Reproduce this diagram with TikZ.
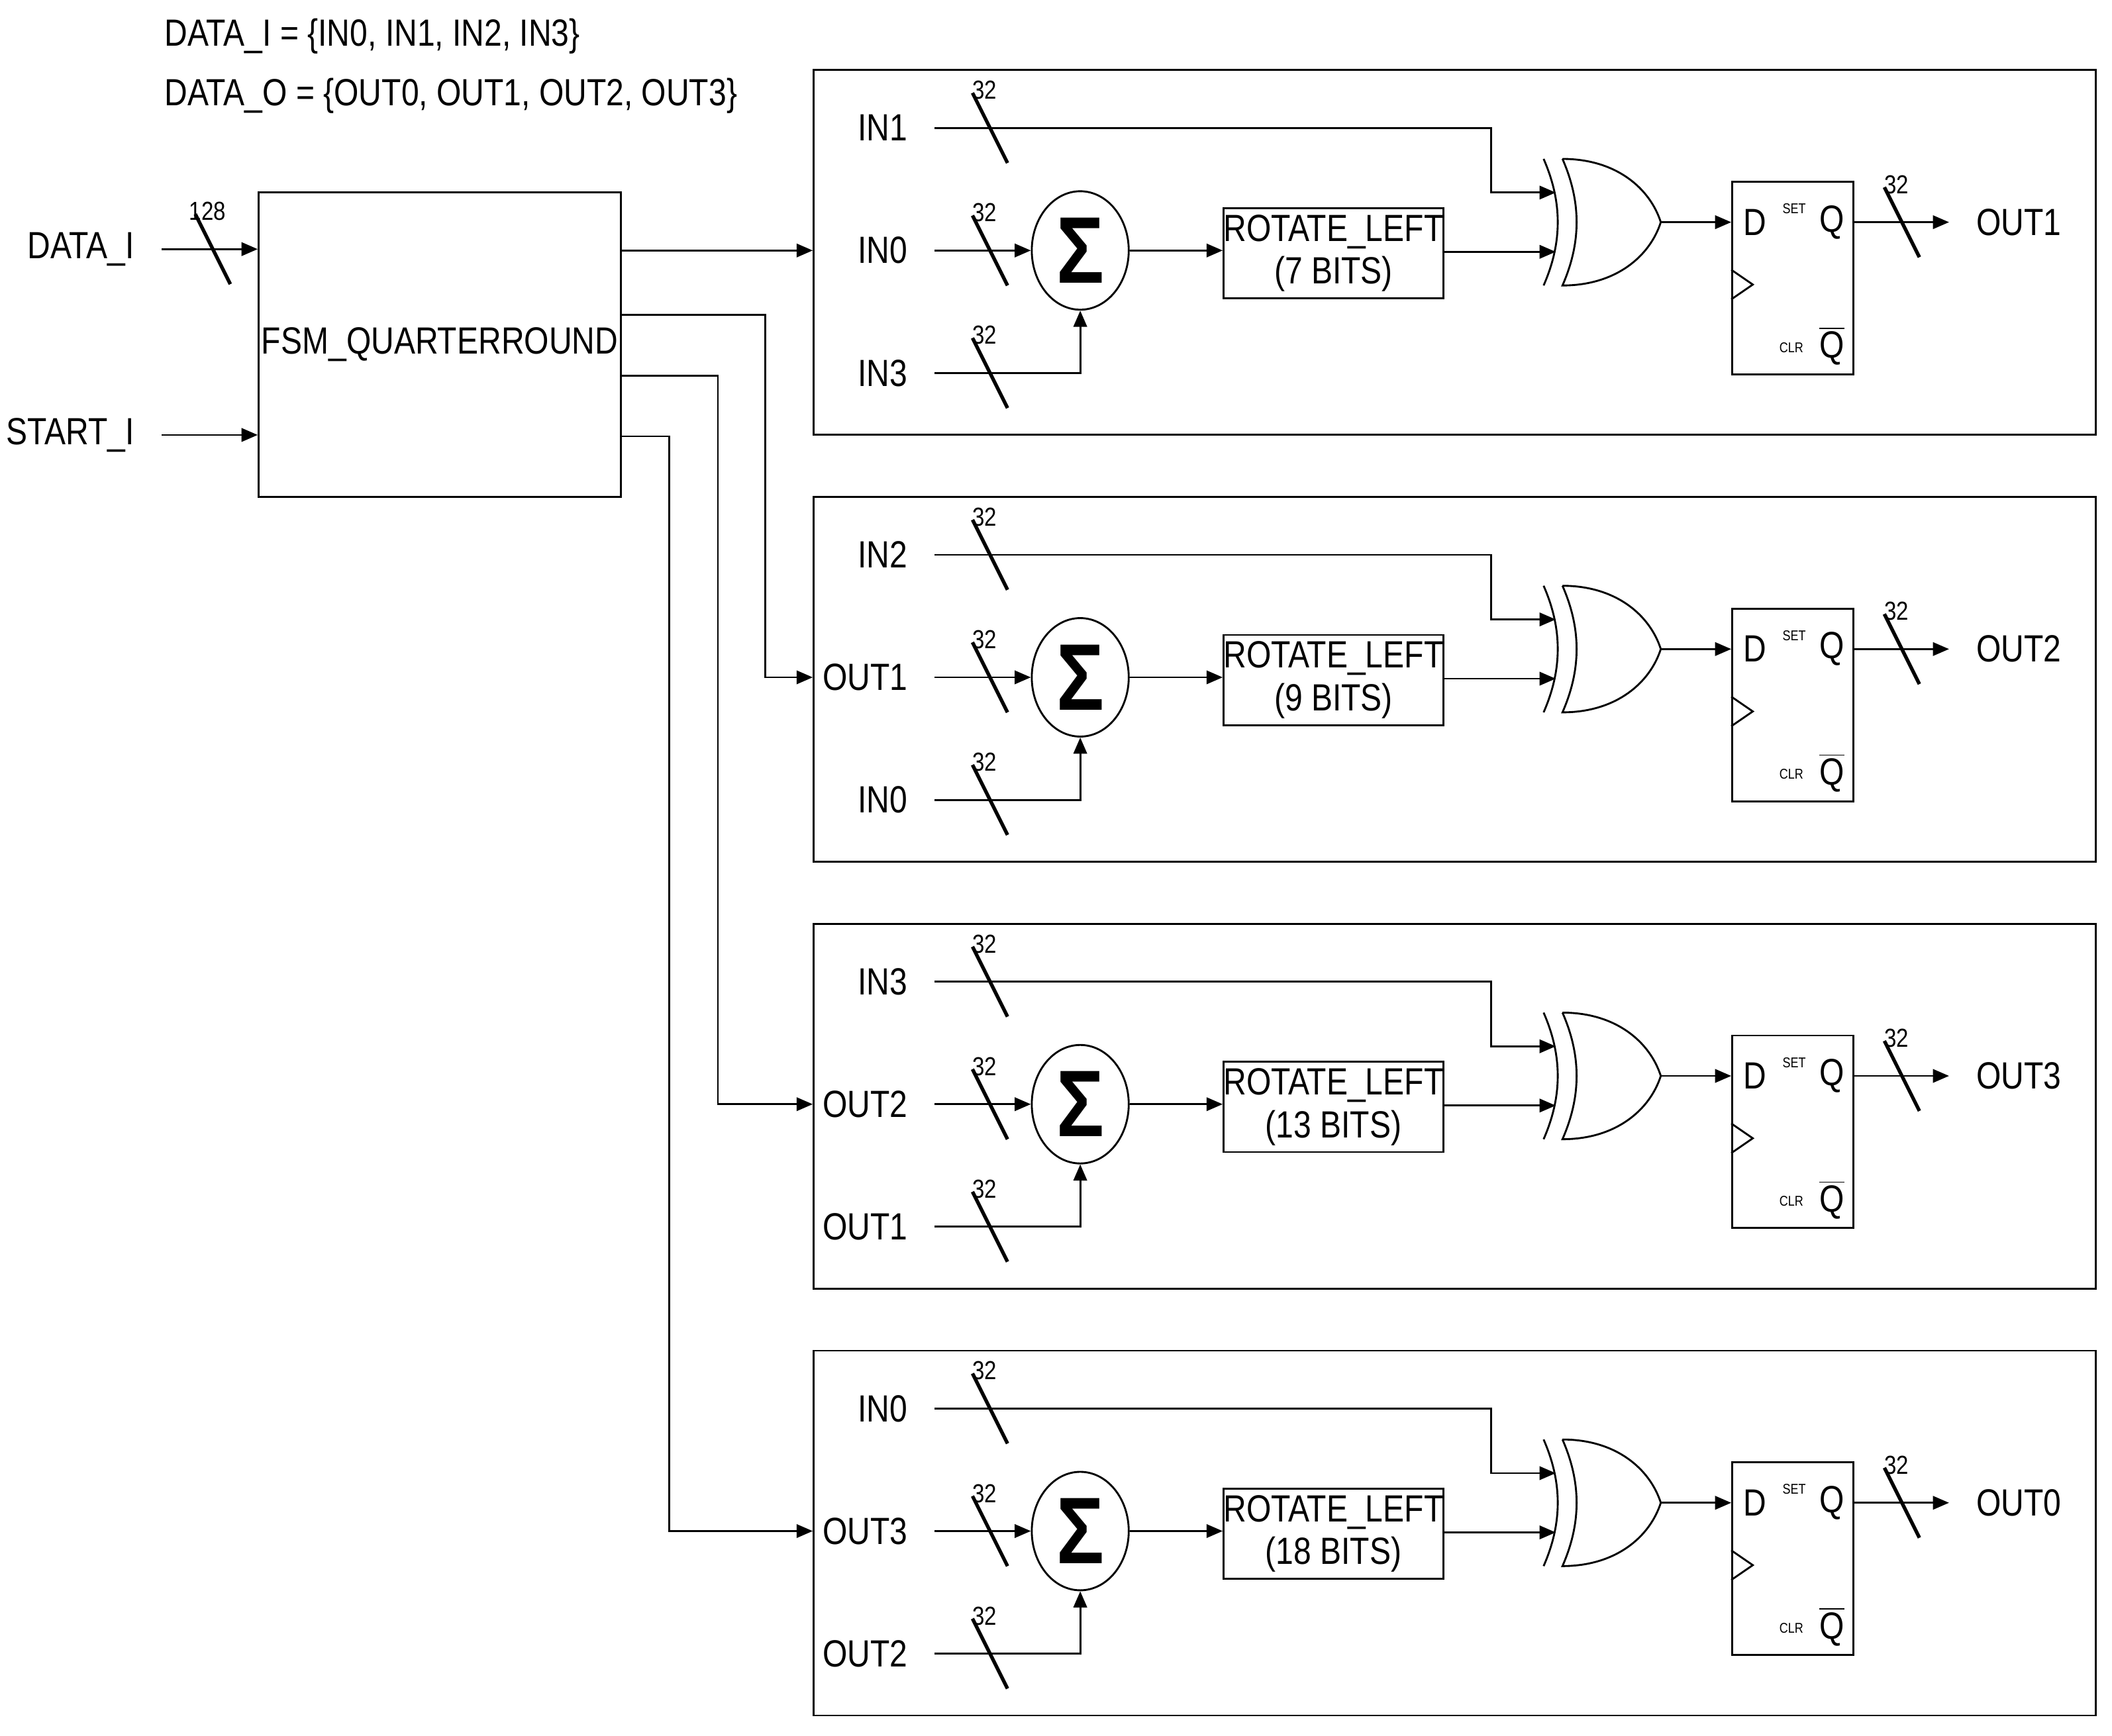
\documentclass[tikz,border=0pt]{standalone}
\usepackage{fontspec}
\setmainfont{Liberation Sans}[FakeStretch=0.84]
\usetikzlibrary{shapes.geometric, arrows.meta, positioning, calc}
\tikzset{
    wire/.style={line width=0.8pt},
    bus/.style={wire, -{Triangle[length=2.4mm,width=2mm]}},
    slash/.style={line width=1.5pt},
    lbl/.style={font=\fontsize{16}{18}\selectfont, inner ysep=1pt, inner xsep=0.4cm},
    tiny/.style={font=\fontsize{11}{12}\selectfont, inner sep=0pt},
    ffpin/.style={font=\fontsize{6}{7}\selectfont, inner sep=0pt},
    box/.style={draw, wire, rectangle, inner sep=0pt, align=center, font=\fontsize{16}{18}\selectfont},
}
\newcommand\busslash[2]{%
    \draw[slash] ($(#1)+(-13,-26)$) -- ($(#1)+(13,26)$);
    \node[tiny] at ($(#1)+(-4,-28)$) {#2};}
\begin{document}
\begin{tikzpicture}[x=0.02cm, y=-0.02cm]
    \useasboundingbox (0,0) rectangle (1568,1289);
    % header
    \node[lbl, inner xsep=0pt, anchor=west] (hdi) at (122,27) {DATA\_I = \{IN0, IN1, IN2, IN3\}};
    \node[lbl, inner xsep=0pt, anchor=west] (hdo) at (122,71) {DATA\_O = \{OUT0, OUT1, OUT2, OUT3\}};

    % control block
    \node[box, minimum width=5.38cm, minimum height=4.52cm] (fsm) at (326.5,256) {FSM\_QUARTERROUND};
    \node[lbl, anchor=east] (datai) at (120,185) {DATA\_I};
    \node[lbl, anchor=east] (starti) at (120,323) {START\_I};
    \draw[bus] (datai.east) -- (fsm.west |- datai.east);
    \busslash{158,185}{128}
    \draw[bus] (starti.east) -- (fsm.west |- starti.east);

    \foreach \i/\t/\la/\lb/\lc/\b/\o in {1/0/IN1/IN0/IN3/7/OUT1, 2/317/IN2/OUT1/IN0/9/OUT2,
        3/634/IN3/OUT2/OUT1/13/OUT3, 4/951/IN0/OUT3/OUT2/18/OUT0} {
    \begin{scope}[yshift={-\t*0.02cm}]
        \node[box, minimum width=19.04cm, minimum height=5.42cm] (blk\i) at (1080,187.5) {};
        \node[lbl, anchor=east] (ta\i) at (694,95) {\la};
        \node[lbl, anchor=east] (mi\i) at (694,186) {\lb};
        \node[lbl, anchor=east] (bo\i) at (694,277) {\lc};
        \node[draw, wire, ellipse, minimum width=1.44cm, minimum height=1.76cm, inner sep=0pt] (sum\i) at (802,186)
            {\fontsize{40}{40}\selectfont\bfseries Σ};
        \node[box, minimum width=3.24cm, minimum height=1.34cm] (rot\i) at (990,188) {ROTATE\_LEFT\\(\b{} BITS)};
        % xor gate
        \draw[wire] (1146,118) .. controls (1160,150) and (1160,180) .. (1146,212);
        \draw[wire] (1160,118) .. controls (1174,150) and (1174,180) .. (1160,212)
            .. controls (1200,212) and (1225,190) .. (1233,165)
            .. controls (1225,140) and (1200,118) .. (1160,118);
        \coordinate (xa\i) at (1155,143);
        \coordinate (xb\i) at (1155,187);
        \coordinate (xo\i) at (1233,165);
        % flip-flop
        \node[box, minimum width=1.8cm, minimum height=2.86cm] (ff\i) at (1331,206.5) {};
        \node[lbl, inner sep=0pt] (d\i) at (1303,165) {D};
        \node[lbl, inner sep=0pt] (q\i) at (1360,165) {Q};
        \node[lbl, inner sep=0pt] (nq\i) at (1360,257) {$\overline{\mbox{Q}}$};
        \node[ffpin] (set\i) at (1332,155) {SET};
        \node[ffpin] (clr\i) at (1330,258) {CLR};
        \draw[wire] ($(ff\i.north west)+(0,66)$) -- ++(16,11) -- ++(-16,11);
        \node[lbl, anchor=west] (ol\i) at (1447,165) {\o};
        % wiring
        \draw[bus] (ta\i.east) -| ($(xa\i)+(-48,0)$) -- (xa\i);
        \draw[bus] (mi\i.east) -- (sum\i.west);
        \draw[bus] (bo\i.east) -| (sum\i.south);
        \draw[bus] (sum\i.east) -- (rot\i.west |- sum\i.east);
        \draw[bus] (rot\i.east |- xb\i) -- (xb\i);
        \draw[bus] (xo\i) -- (ff\i.west |- xo\i);
        \draw[bus] (ff\i.east |- q\i) -- (ol\i.west);
        \busslash{735,95}{32}
        \busslash{735,186}{32}
        \busslash{735,277}{32}
        \busslash{1412,165}{32}
    \end{scope}
    }

    % fsm outputs
    \draw[bus] (fsm.east |- mi1) -- (blk1.west |- mi1);
    \draw[bus] (461,234) -| (568,400) |- (blk2.west |- mi2);
    \draw[bus] (461,279) -| (533,600) |- (blk3.west |- mi3);
    \draw[bus] (461,324) -| (497,800) |- (blk4.west |- mi4);
\end{tikzpicture}
\end{document}
